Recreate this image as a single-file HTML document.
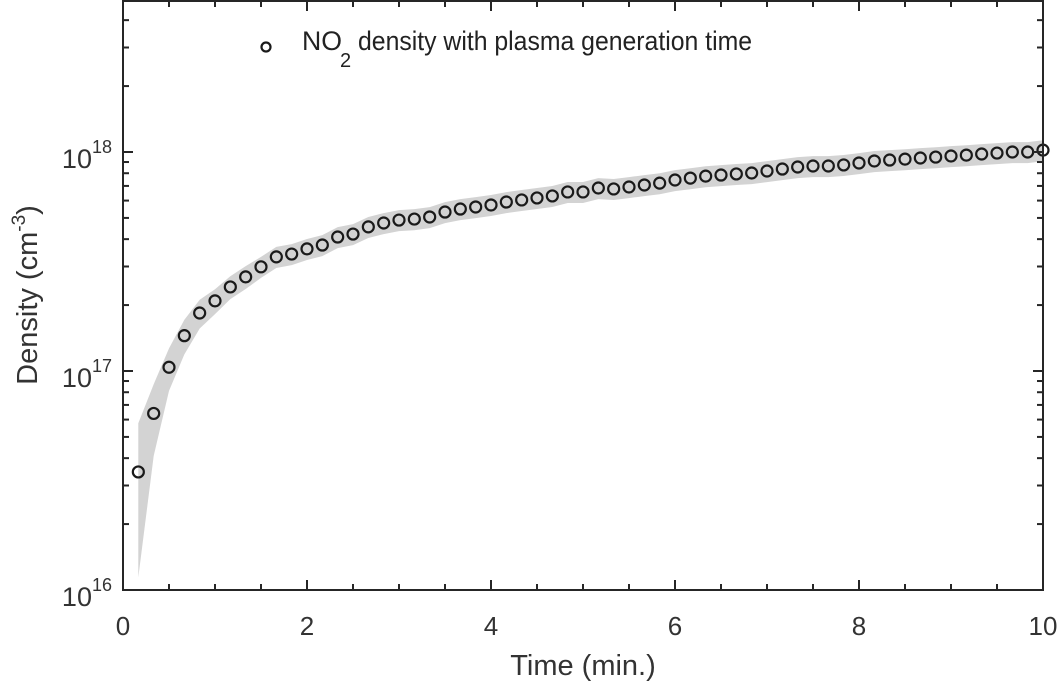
<!DOCTYPE html>
<html><head><meta charset="utf-8"><style>
body{margin:0;background:#fff}
svg{display:block;font-family:"Liberation Sans",Arial,sans-serif}
</style></head><body>
<svg id="chart" width="1058" height="685" viewBox="0 0 1058 685"></svg>
<script>
const times=[];for(let i=1;i<=60;i++)times.push(i/6);
const density=[3.46e16,6.4e16,1.04e17,1.45e17,1.84e17,2.09e17,2.42e17,2.69e17,2.99e17,3.32e17,
3.42e17,3.61e17,3.76e17,4.09e17,4.22e17,4.55e17,4.74e17,4.89e17,4.94e17,5.05e17,
5.32e17,5.49e17,5.61e17,5.73e17,5.91e17,6.04e17,6.17e17,6.30e17,6.57e17,6.57e17,
6.85e17,6.78e17,6.92e17,7.07e17,7.21e17,7.45e17,7.60e17,7.76e17,7.85e17,7.94e17,
8.02e17,8.19e17,8.36e17,8.54e17,8.63e17,8.63e17,8.73e17,8.91e17,9.10e17,9.19e17,
9.28e17,9.39e17,9.48e17,9.59e17,9.68e17,9.79e17,9.89e17,1.00e18,1.00e18,1.02e18];
const errFrac=[0.67,0.36,0.22,0.18,0.15,0.13,0.12,0.12,0.11,0.11,
0.11,0.11,0.11,0.11,0.11,0.11,0.11,0.11,0.11,0.11,
0.11,0.11,0.11,0.11,0.11,0.11,0.11,0.11,0.11,0.11,
0.11,0.11,0.11,0.11,0.11,0.11,0.11,0.11,0.11,0.11,
0.11,0.11,0.11,0.11,0.11,0.11,0.11,0.11,0.11,0.11,
0.11,0.11,0.11,0.11,0.11,0.11,0.11,0.11,0.11,0.11];
const xTicks=[0,2,4,6,8,10];
const yTickExp=[16,17,18];

const L=123,R=1043,T=1,B=590;
const xMin=0,xMax=10,yMinLog=16,yMaxLog=16+(B-T)/219;
const sx=v=>L+(v-xMin)/(xMax-xMin)*(R-L);
const sy=v=>B-(Math.log10(v)-yMinLog)/(yMaxLog-yMinLog)*(B-T);
const NS="http://www.w3.org/2000/svg";
const svg=document.getElementById('chart');
function mk(tag,attrs,parent){const e=document.createElementNS(NS,tag);for(const k in attrs)e.setAttribute(k,attrs[k]);(parent||svg).appendChild(e);return e;}

let up=[],lo=[];
density.forEach((v,i)=>{up.push(sx(times[i]).toFixed(1)+','+sy(v*(1+errFrac[i])).toFixed(1));lo.push(sx(times[i]).toFixed(1)+','+sy(Math.max(v*(1-errFrac[i]),1.05e16)).toFixed(1));});
const band=mk('polygon',{points:up.concat(lo.reverse()).join(' '),fill:'#d3d3d3',stroke:'none'});



density.forEach((v,i)=>{
 const c=mk('circle',{cx:sx(times[i]),cy:sy(v),r:5.5,fill:'none',stroke:'#1a1a1a','stroke-width':2.2});
 
 
});

const box=mk('rect',{x:L,y:T,width:R-L,height:B-T,fill:'none',stroke:'#262626','stroke-width':2});



for(let t=0;t<=10.001;t+=0.5){
 const major=Math.abs(t-Math.round(t/2)*2)<1e-6;const len=major?10:6;const x=sx(t);
 mk('line',{x1:x,x2:x,y1:B,y2:B-len,stroke:'#262626','stroke-width':2});
 mk('line',{x1:x,x2:x,y1:T,y2:T+len,stroke:'#262626','stroke-width':2});
}
xTicks.forEach(t=>{
 const tx=mk('text',{x:sx(t),y:635,'text-anchor':'middle','font-size':26,fill:'#333'});
 tx.textContent=t;
 
 
});
for(let e=16;e<=18;e++){for(let m=1;m<=9;m++){const v=m*Math.pow(10,e);const y=sy(v);if(y<T)continue;const len=m===1?10:6;
 mk('line',{x1:L,x2:L+len,y1:y,y2:y,stroke:'#262626','stroke-width':2});
 mk('line',{x1:R,x2:R-len,y1:y,y2:y,stroke:'#262626','stroke-width':2});}}
yTickExp.forEach(e=>{
 const tx=mk('text',{x:112,y:sy(Math.pow(10,e))+16,'text-anchor':'end','font-size':27,fill:'#333'});
 tx.innerHTML='10<tspan dy="-15" font-size="18">'+e+'</tspan>';
 
 
});
const xt=mk('text',{x:583,y:675,'text-anchor':'middle','font-size':29,fill:'#333'});
xt.textContent='Time (min.)';


const yt=mk('text',{x:0,y:0,'text-anchor':'middle','font-size':29,fill:'#333',transform:'translate(37,295) rotate(-90)'});
yt.innerHTML='Density (cm<tspan dy="-12" font-size="19">-3</tspan><tspan dy="12">)</tspan>';


const lg=mk('g',{});


mk('circle',{cx:266,cy:47,r:4.5,fill:'none',stroke:'#1a1a1a','stroke-width':2.2},lg);
const lg1=mk('text',{x:302,y:50,'font-size':27,fill:'#222',textLength:40,lengthAdjust:'spacingAndGlyphs'},lg);
lg1.textContent='NO';
const lg2=mk('text',{x:340,y:67,'font-size':20,fill:'#222'},lg);
lg2.textContent='2';
const lg3=mk('text',{x:358,y:50,'font-size':27,fill:'#222',textLength:394,lengthAdjust:'spacingAndGlyphs'},lg);
lg3.textContent='density with plasma generation time';
</script>
</body></html>
